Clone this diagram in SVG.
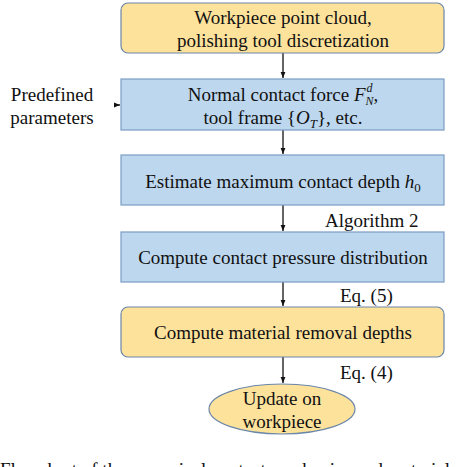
<svg xmlns="http://www.w3.org/2000/svg" width="474" height="467" viewBox="0 0 474 467">
<defs>
<style>
.t{font-family:'Liberation Serif','DejaVu Serif',serif;font-size:19px;fill:#111;}
.m{font-style:italic;}
.y{fill:#fde29c;stroke:#6a86a8;stroke-width:1.2;}
.b{fill:#bdd7ee;stroke:#7b9cc4;stroke-width:1.2;}
.c{stroke:#111;stroke-width:1.3;fill:none;}
</style>
<marker id="ah" viewBox="0 0 10 10" refX="10" refY="5" markerWidth="6" markerHeight="6" orient="auto" markerUnits="userSpaceOnUse">
<path d="M0,1 L10,5 L0,9 z" fill="#111"/>
</marker>
</defs>
<rect width="474" height="467" fill="#fff"/>
<g id="connectors">
<line class="c" x1="283" y1="53" x2="283" y2="78" marker-end="url(#ah)"/>
<line class="c" x1="283" y1="130" x2="283" y2="154" marker-end="url(#ah)"/>
<line class="c" x1="283" y1="205" x2="283" y2="231" marker-end="url(#ah)"/>
<line class="c" x1="283" y1="282" x2="283" y2="306" marker-end="url(#ah)"/>
<line class="c" x1="283" y1="357" x2="283" y2="383" marker-end="url(#ah)"/>
<line class="c" x1="115" y1="105" x2="120" y2="105" marker-end="url(#ah)"/>
<text class="t" x="325" y="227">Algorithm 2</text>
<text class="t" x="340" y="302">Eq. (5)</text>
<text class="t" x="340" y="379">Eq. (4)</text>
</g>
<g id="n1">
<rect class="y" x="121" y="3" width="323" height="50" rx="7"/>
<text class="t" x="283" y="24" text-anchor="middle">Workpiece point cloud,</text>
<text class="t" x="283" y="47" text-anchor="middle">polishing tool discretization</text>
</g>
<g id="params">
<text class="t" x="52" y="101" text-anchor="middle">Predefined</text>
<text class="t" x="52" y="124" text-anchor="middle">parameters</text>
</g>
<g id="n2">
<rect class="b" x="121" y="79" width="323" height="51"/>
<text class="t" x="283" y="101" text-anchor="middle">Normal contact force <tspan class="m">F</tspan><tspan class="m" font-size="12" dx="1" dy="-9">d</tspan><tspan class="m" font-size="12" dx="-7" dy="13">N</tspan><tspan dy="-4">,</tspan></text>
<text class="t" x="283" y="124" text-anchor="middle">tool frame {<tspan class="m">O</tspan><tspan class="m" font-size="13" dy="4">T</tspan><tspan dy="-4">}, etc.</tspan></text>
</g>
<g id="n3">
<rect class="b" x="121" y="155" width="323" height="50"/>
<text class="t" x="283" y="188" text-anchor="middle">Estimate maximum contact depth <tspan class="m">h</tspan><tspan font-size="13" dy="4">0</tspan></text>
</g>
<g id="n4">
<rect class="b" x="121" y="232" width="323" height="50"/>
<text class="t" x="283" y="264" text-anchor="middle">Compute contact pressure distribution</text>
</g>
<g id="n5">
<rect class="y" x="121" y="307" width="323" height="50" rx="7"/>
<text class="t" x="283" y="339" text-anchor="middle">Compute material removal depths</text>
</g>
<g id="n6">
<ellipse class="y" cx="282" cy="409" rx="73" ry="25"/>
<text class="t" x="282" y="405" text-anchor="middle">Update on</text>
<text class="t" x="282" y="428" text-anchor="middle">workpiece</text>
</g>
<text class="t" x="0" y="476">Flowchart of the numerical contact mechanics and material removal</text>
</svg>
